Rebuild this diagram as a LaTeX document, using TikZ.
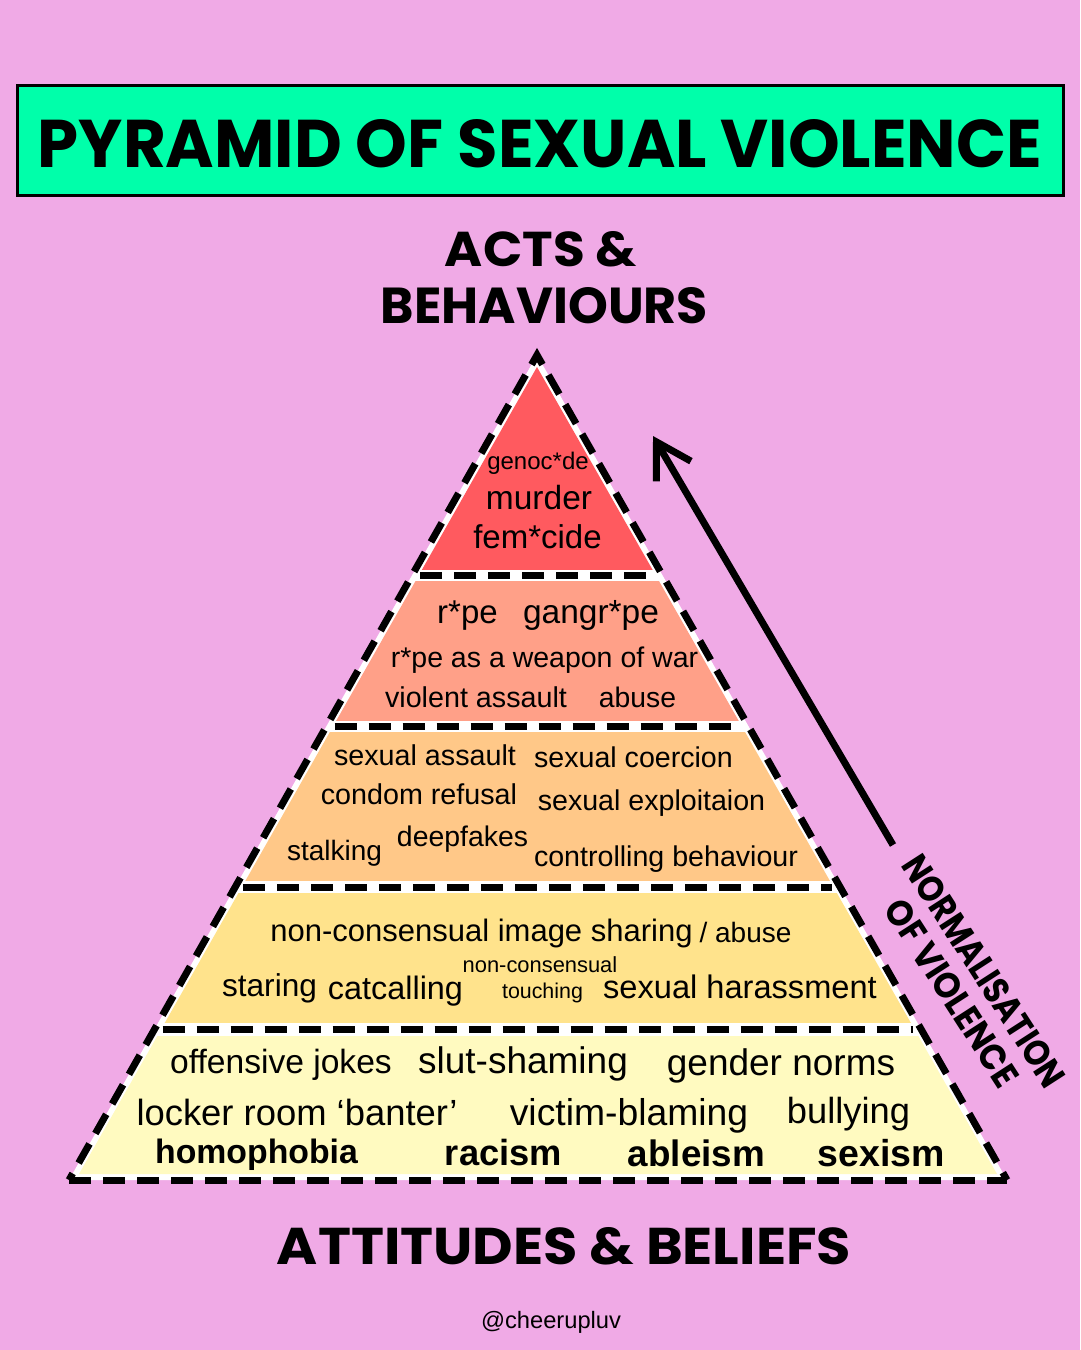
\documentclass[tikz,border=0pt]{standalone}
\usepackage{fontspec}
\usepackage{graphicx}
\setmainfont{Liberation Sans}
\newfontfamily\headfont{Poppins}
\usetikzlibrary{arrows.meta, calc}
\definecolor{bgpink}{HTML}{F0AAE6}
\definecolor{titlegreen}{HTML}{00FFAA}
\definecolor{tierone}{HTML}{FF5A5F}
\definecolor{tiertwo}{HTML}{FFA088}
\definecolor{tierthree}{HTML}{FFC888}
\definecolor{tierfour}{HTML}{FFE38C}
\definecolor{tierfive}{HTML}{FFFAC0}
\newcommand{\fsz}[1]{\fontsize{#1}{#1}\selectfont}
\newcommand{\headtext}[3]{\resizebox{#1pt}{#2pt}{\headfont\bfseries #3}}

\begin{document}
\begin{tikzpicture}[x=1pt, y=-1pt,
    lbl/.style={anchor=base, inner sep=0pt},
    head/.style={inner sep=0pt},
    dashline/.style={line width=7pt, dash pattern=on 22pt off 12pt},
    normarrow/.style={line width=7pt, -{Straight Barb[length=34pt, width=40pt]}}
]
    \useasboundingbox (0,0) rectangle (1080,1350);
    \fill[bgpink] (0,0) rectangle (1080,1350);

    % Title
    \node[draw, line width=3pt, fill=titlegreen, minimum width=1046pt,
          minimum height=110pt] (titlebox) at (540.5,140.5) {};
    \node[head] (titletext) at (540,144) {\headtext{1004}{48}{PYRAMID OF SEXUAL VIOLENCE}};

    % Top and bottom headings
    \node[head] (acts) at (541,249.5) {\headtext{192}{35}{ACTS \&}};
    \node[head] (behaviours) at (544.5,306) {\headtext{327}{36}{BEHAVIOURS}};
    \node[head] (attitudes) at (564,1246.5) {\headtext{574}{37}{ATTITUDES \& BELIEFS}};
    \node[lbl, font=\fsz{23.7}] (handle) at (551,1328) {@cheerupluv};

    % Pyramid
    \coordinate (apex) at (537,355);
    \coordinate (baseL) at (69,1180);
    \coordinate (baseR) at (1007,1180);
    \fill[white] (apex) -- (baseL) -- (baseR) -- cycle;
    \begin{scope}
        \clip (537,367) -- (79,1174) -- (997,1174) -- cycle;
        \foreach \ytop/\ybot/\col in {340/570/tierone, 581/721/tiertwo,
                 732/881/tierthree, 893/1023/tierfour, 1036/1180/tierfive}
            \fill[\col] (0,\ytop) rectangle (1080,\ybot);
    \end{scope}

    % Dashed outline and dividers
    \foreach \yy in {575,726,887,1029}
        \draw[dashline, shorten <=8pt, shorten >=8pt]
            ($(apex)!{(\yy-355)/825}!(baseL)$) -- ($(apex)!{(\yy-355)/825}!(baseR)$);
    \draw[dashline, dash phase=14.5pt, line join=miter] (baseL) -- (apex) -- (baseR);
    \draw[dashline] (baseL) -- (baseR);

    % Tier 1
    \node[lbl, font=\fsz{24}] (genocide) at (538,469) {genoc*de};
    \node[lbl, font=\fsz{33.5}] (murder) at (539,509) {murder};
    \node[lbl, font=\fsz{33}] (femicide) at (537.5,548) {fem*cide};

    % Tier 2
    \node[lbl, font=\fsz{33}] (rape) at (467.5,623) {r*pe};
    \node[lbl, font=\fsz{33.5}] (gangrape) at (591,623) {gangr*pe};
    \node[lbl, font=\fsz{28.5}] (weaponwar) at (544.5,667) {r*pe as a weapon of war};
    \node[lbl, font=\fsz{28.7}] (violent) at (476,707) {violent assault};
    \node[lbl, font=\fsz{28.3}] (abuse) at (637.5,707) {abuse};

    % Tier 3
    \node[lbl, font=\fsz{28.7}] (sexassault) at (425,765) {sexual assault};
    \node[lbl, font=\fsz{28.6}] (coercion) at (633.5,767) {sexual coercion};
    \node[lbl, font=\fsz{28.7}] (condom) at (419,804) {condom refusal};
    \node[lbl, font=\fsz{28.6}] (exploit) at (651.5,810) {sexual exploitaion};
    \node[lbl, font=\fsz{28}] (stalking) at (334.5,860) {stalking};
    \node[lbl, font=\fsz{28.4}] (deepfakes) at (462.5,846) {deepfakes};
    \node[lbl, font=\fsz{28.6}] (controlling) at (666,866) {controlling behaviour};

    % Tier 4
    \node[lbl, font=\fsz{31}] (imagesharing) at (481.5,941) {non-consensual image sharing};
    \node[lbl, font=\fsz{28}] (imageabuse) at (745.5,942) {/ abuse};
    \node[lbl, font=\fsz{31.6}] (staring) at (269.5,996) {staring};
    \node[lbl, font=\fsz{32.4}] (catcalling) at (395.5,999) {catcalling};
    \node[lbl, font=\fsz{21.9}] (nctop) at (540,972) {non-consensual};
    \node[lbl, font=\fsz{21.4}] (ncbottom) at (542.5,998) {touching};
    \node[lbl, font=\fsz{32.6}] (harassment) at (740,998) {sexual harassment};

    % Tier 5
    \node[lbl, font=\fsz{33.6}] (jokes) at (281,1073) {offensive jokes};
    \node[lbl, font=\fsz{37}] (slutshaming) at (523,1073) {slut-shaming};
    \node[lbl, font=\fsz{37}] (gendernorms) at (781,1075) {gender norms};
    \node[lbl, font=\fsz{36.4}] (banter) at (297,1125) {locker room ‘banter’};
    \node[lbl, font=\fsz{37.3}] (victimblaming) at (629,1125) {victim-blaming};
    \node[lbl, font=\fsz{36.3}] (bullying) at (848.5,1123) {bullying};
    \node[lbl, font=\fsz{33.8}\bfseries] (homophobia) at (256.5,1163) {homophobia};
    \node[lbl, font=\fsz{36.3}\bfseries] (racism) at (503.5,1165) {racism};
    \node[lbl, font=\fsz{36.8}\bfseries] (ableism) at (696.5,1166) {ableism};
    \node[lbl, font=\fsz{37.5}\bfseries] (sexism) at (881.5,1166) {sexism};

    % Normalisation arrow
    \coordinate (arrtail) at (893,845);
    \coordinate (arrtip) at (653,436);
    \draw[normarrow] (arrtail) -- (arrtip);
    \node[head, rotate=-57.2] (normline) at (984,971)
         {\headtext{268}{26}{NORMALISATION}};
    \node[head, rotate=-57.2] (violline) at (952,993)
         {\headtext{215}{26}{OF VIOLENCE}};
\end{tikzpicture}
\end{document}
